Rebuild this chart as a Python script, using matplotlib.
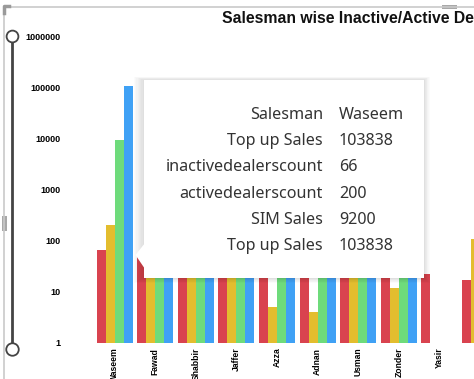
import numpy as np
import matplotlib
matplotlib.use("Agg")
import matplotlib.pyplot as plt
from matplotlib.patches import Rectangle, Polygon
from matplotlib.lines import Line2D

# ---- data ----
salesmen = ["Waseem", "Fawad", "Shabbir", "Jaffer", "Azza", "Adnan", "Usman", "Zonder", "Yasir", "Zubair"]
inactive = [66, 55, 40, 35, 45, 50, 30, 60, 22, 17]
active = [200, 150, 120, 90, 5, 4, 110, 12, 0, 106]
sim_sales = [9200, 2500, 1800, 1500, 800, 600, 2000, 1000, 0, 500]
topup_sales = [103838, 40000, 30000, 25000, 15000, 12000, 35000, 20000, 0, 9000]
ytick_vals = [1, 10, 100, 1000, 10000, 100000, 1000000]
ytick_labels = ["1", "10", "100", "1000", "10000", "100000", "1000000"]
title = "Salesman wise Inactive/Active Dealers"
tip_labels = ["Salesman", "Top up Sales", "inactivedealerscount", "activedealerscount", "SIM Sales", "Top up Sales"]
tip_values = ["Waseem", "103838", "66", "200", "9200", "103838"]

colors = ["#D9434F", "#E3BD2E", "#6EDB7B", "#3FA1F5"]

W, H = 474, 379
fig = plt.figure(figsize=(W / 100, H / 100), dpi=100)
fig.patch.set_facecolor("white")

def fx(x):
    return x / W

def fy(y):
    return 1 - y / H

# axes placement in pixels
ax_left, ax_right = 66, 474
ax_top, ax_bot = 36, 343
ax = fig.add_axes([fx(ax_left), fy(ax_bot), (ax_right - ax_left) / W, (ax_bot - ax_top) / H])

pitch = 40.6
c0 = 114.7
ax.set_xlim((ax_left - c0) / pitch, (ax_right - c0) / pitch)
ax.set_yscale("log")
ax.set_ylim(1, 1e6)

x = np.arange(len(salesmen))
bw = 9 / pitch
series = [inactive, active, sim_sales, topup_sales]
for k, (vals, col) in enumerate(zip(series, colors)):
    v = np.array(vals, dtype=float)
    v[v <= 0] = np.nan
    ax.bar(x + (k - 1.5) * bw, v, width=bw, color=col, bottom=0, linewidth=0)

for s in ax.spines.values():
    s.set_visible(False)
ax.set_yticks(ytick_vals)
ax.set_yticklabels(ytick_labels, fontsize=6.5, fontweight="bold", family="Liberation Sans")
ax.yaxis.set_minor_locator(matplotlib.ticker.NullLocator())
ax.tick_params(axis="y", length=0, pad=3.6)
n_vis = len(salesmen) - 1  # last group's label lies beyond the right edge
ax.set_xticks(x[:n_vis])
ax.set_xticklabels(salesmen[:n_vis], rotation=90, fontsize=6.2, fontweight="bold", family="Liberation Sans")
ax.tick_params(axis="x", length=0, pad=3.4)
ax.set_facecolor("none")

# title
fig.text(fx(222), fy(22.7), title, fontsize=11.3, fontweight="bold", family="Liberation Sans",
         ha="left", va="baseline", color="#111111")

# frame decorations
fig.add_artist(Line2D([fx(4), fx(4)], [fy(7), fy(379)], color="#c9c9c9", lw=1.2))
fig.add_artist(Line2D([fx(4), fx(474)], [fy(7), fy(7)], color="#c9c9c9", lw=1.2))
fig.add_artist(Line2D([fx(3.5), fx(3.5), fx(9)], [fy(13), fy(6), fy(6)], color="#9a9a9a", lw=2.5))
fig.add_artist(Rectangle((fx(2), fy(231)), fx(5), 15 / H, color="#a8a8a8", lw=0))
fig.add_artist(Rectangle((fx(442), fy(9)), fx(15), 4 / H, color="#a8a8a8", lw=0))

# slider
fig.add_artist(Line2D([fx(12), fx(12)], [fy(36), fy(349)], color="#444444", lw=2.0))
fig.add_artist(Line2D([fx(12)], [fy(36)], marker="o", markersize=8.5, markerfacecolor="white",
                      markeredgecolor="#444444", markeredgewidth=1.3, linestyle="none"))
fig.add_artist(Line2D([fx(12)], [fy(349)], marker="o", markersize=9, markerfacecolor="white",
                      markeredgecolor="#444444", markeredgewidth=1.3, linestyle="none"))

# tooltip with soft shadow
tx0, tx1, ty0, ty1 = 144, 424, 80, 278
for i in range(8, 0, -1):
    fig.add_artist(Rectangle((fx(tx0 - i * 1.3), fy(ty1 + i * 0.6)), (tx1 - tx0 + i * 2.0) / W,
                             (ty1 - ty0 + i * 1.0) / H, color="#000000", alpha=0.014, lw=0, zorder=5))
fig.add_artist(Polygon([(fx(145), fy(243)), (fx(135.5), fy(255)), (fx(145), fy(269))],
                       closed=True, color="white", lw=0, zorder=6))
fig.add_artist(Rectangle((fx(tx0), fy(ty1)), (tx1 - tx0) / W, (ty1 - ty0) / H,
                         color="white", lw=0, zorder=6))
rows_y = [115, 141, 167.3, 194, 220, 245.7]
for lab, val, yy in zip(tip_labels, tip_values, rows_y):
    fig.text(fx(323), fy(yy), lab, ha="right", va="center", fontsize=11.6, family="Noto Sans",
             color="#333333", zorder=7)
    fig.text(fx(339), fy(yy), val, ha="left", va="center", fontsize=11.6, family="Noto Sans",
             color="#333333", zorder=7)

fig.savefig("out.png", dpi=100)
